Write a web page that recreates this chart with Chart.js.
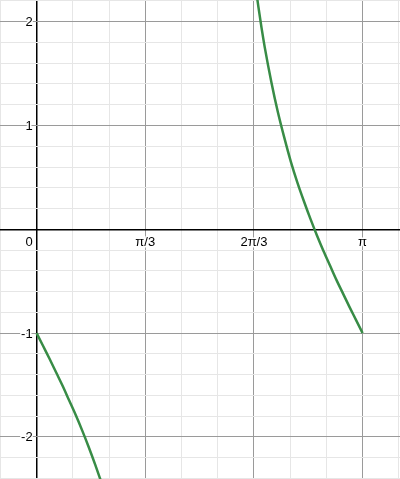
<!DOCTYPE html>
<html>
<head>
<meta charset="utf-8">
<script src="https://cdn.jsdelivr.net/npm/chart.js@4.4.1/dist/chart.umd.min.js"></script>
<style>
  html, body { margin: 0; padding: 0; background: #fff; }
  #wrap { width: 400px; height: 479px; }
</style>
</head>
<body>
<div id="wrap"><canvas id="chart"></canvas></div>
<script>
// x values are in units of pi
const leftX = [0, 0.02, 0.04, 0.06, 0.08, 0.10, 0.12, 0.14, 0.16, 0.18, 0.20];
const leftY = [-1.00, -1.125, -1.25, -1.38, -1.51, -1.65, -1.79, -1.94, -2.10, -2.27, -2.45];
const rightX = [0.67, 0.68, 0.69, 0.70, 0.72, 0.74, 0.76, 0.78, 0.80, 0.82, 0.84, 0.86, 0.88, 0.90, 0.92, 0.94, 0.96, 0.98, 1.00];
const rightY = [2.38, 2.15, 1.94, 1.75, 1.42, 1.13, 0.88, 0.65, 0.45, 0.27, 0.10, -0.06, -0.21, -0.35, -0.49, -0.62, -0.75, -0.875, -1.00];
const xTickLabels = { 0: "0", 3: "π/3", 6: "2π/3", 9: "π" };
const yTickLabels = [2, 1, -1, -2];

const toPoints = (xs, ys) => xs.map((x, i) => ({ x: x, y: ys[i] }));

const lineStyle = {
  showLine: true,
  borderColor: "#388c46",
  borderWidth: 2.5,
  pointRadius: 0,
  cubicInterpolationMode: "monotone",
  fill: false,
};

// grid colours: axis black, major gray, minor light gray
const xGridColor = (ctx) => {
  const k = Math.round(ctx.tick.value * 9);
  if (k === 0) return "#000";
  return k % 3 === 0 ? "#9a9a9a" : "#e6e6e6";
};
const yGridColor = (ctx) => {
  const k = Math.round(ctx.tick.value * 5);
  if (k === 0) return "#000";
  return k % 5 === 0 ? "#9a9a9a" : "#e6e6e6";
};

// draw tick labels next to the axes, Desmos style
const axisLabels = {
  id: "axisLabels",
  afterDraw(chart) {
    const c = chart.ctx;
    const xs = chart.scales.x;
    const ys = chart.scales.y;
    const x0 = xs.getPixelForValue(0);
    const y0 = ys.getPixelForValue(0);
    c.save();
    c.font = "13px 'Liberation Sans', Arial, sans-serif";
    c.lineWidth = 3;
    c.strokeStyle = "#fff";
    c.fillStyle = "#000";
    c.lineJoin = "round";

    c.textBaseline = "top";
    Object.keys(xTickLabels).forEach((k) => {
      const text = xTickLabels[k];
      const v = Number(k) / 9;
      let px = xs.getPixelForValue(v);
      if (v === 0) {
        c.textAlign = "right";
        px = x0 - 4;
      } else {
        c.textAlign = "center";
      }
      c.strokeText(text, px, y0 + 7);
      c.fillText(text, px, y0 + 7);
    });

    c.textAlign = "right";
    c.textBaseline = "middle";
    yTickLabels.forEach((v) => {
      const py = ys.getPixelForValue(v);
      c.strokeText(String(v), x0 - 4, py + 1);
      c.fillText(String(v), x0 - 4, py + 1);
    });
    c.restore();
  },
};

new Chart(document.getElementById("chart"), {
  type: "scatter",
  data: {
    datasets: [
      { data: toPoints(leftX, leftY), ...lineStyle },
      { data: toPoints(rightX, rightY), ...lineStyle },
    ],
  },
  options: {
    responsive: true,
    maintainAspectRatio: false,
    animation: false,
    layout: { padding: 0 },
    plugins: {
      legend: { display: false },
      tooltip: { enabled: false },
    },
    scales: {
      x: {
        type: "linear",
        min: -0.1123,
        max: 1.1147,
        afterBuildTicks: (scale) => {
          const t = [];
          for (let k = -1; k <= 10; k++) t.push({ value: k / 9 });
          scale.ticks = t;
        },
        ticks: { display: false },
        border: { display: false },
        grid: {
          drawTicks: false,
          color: xGridColor,
          lineWidth: (ctx) => (Math.round(ctx.tick.value * 9) === 0 ? 1.5 : 1),
        },
      },
      y: {
        type: "linear",
        min: -2.406,
        max: 2.209,
        afterBuildTicks: (scale) => {
          const t = [];
          for (let k = -12; k <= 11; k++) t.push({ value: k / 5 });
          scale.ticks = t;
        },
        ticks: { display: false },
        border: { display: false },
        grid: {
          drawTicks: false,
          color: yGridColor,
          lineWidth: (ctx) => (Math.round(ctx.tick.value * 5) === 0 ? 1.5 : 1),
        },
      },
    },
  },
  plugins: [axisLabels],
});
</script>
</body>
</html>
